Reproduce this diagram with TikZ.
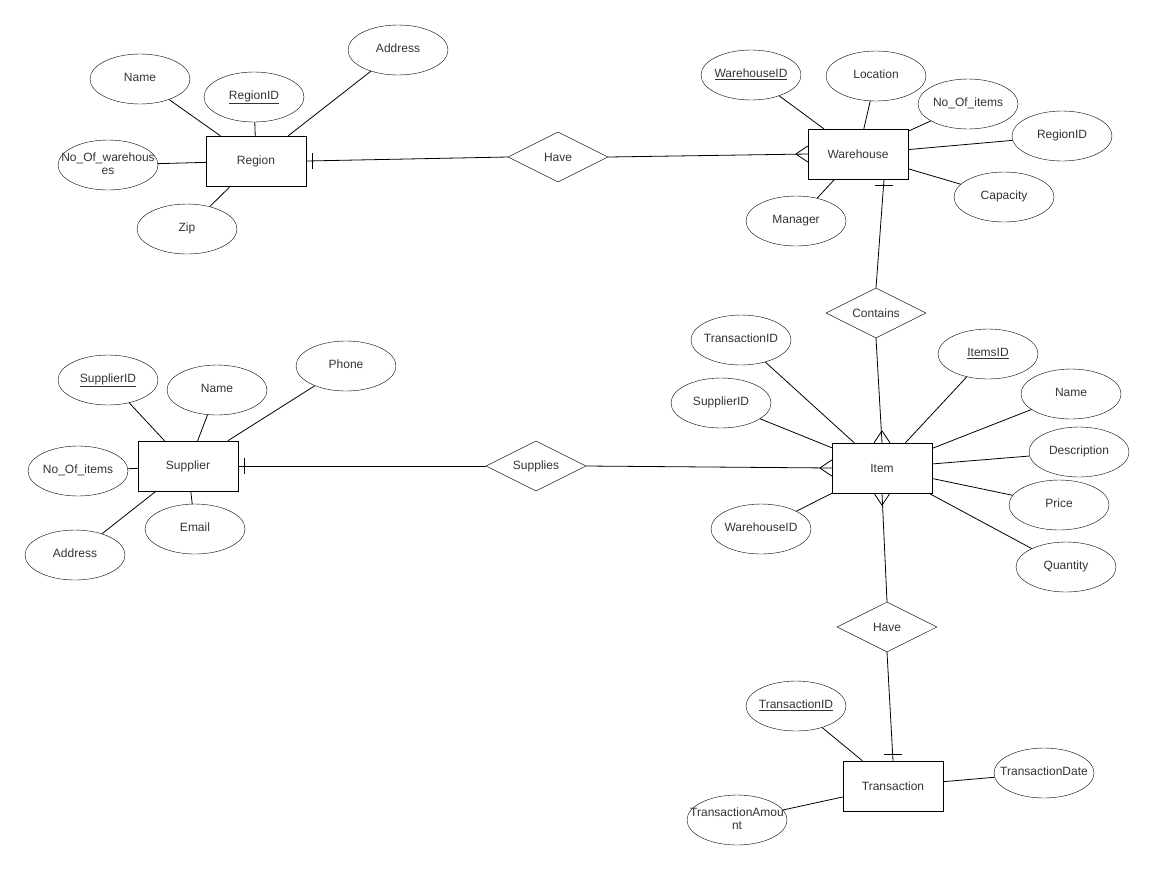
\documentclass[tikz,border=0pt]{standalone}
\usepackage{fontspec}
\setmainfont{Liberation Sans}
\usetikzlibrary{shapes.geometric,calc}
\newcommand{\tx}[1]{\makebox[40pt][c]{\begin{tabular}{@{}c@{}}#1\end{tabular}}}
\begin{document}
\begin{tikzpicture}[x=1pt,y=-1pt,
  every node/.style={font=\fontsize{12}{13}\selectfont, text=black!80, align=center},
  ent/.style={draw, minimum width=100pt, minimum height=50pt, inner sep=0pt},
  rel/.style={draw, diamond, aspect=2, minimum width=100pt, minimum height=50pt, inner sep=0pt},
  att/.style={draw, ellipse, minimum width=100pt, minimum height=50pt, inner sep=0pt},
  ln/.style={draw, line width=0.8pt}]
\useasboundingbox (0,0) rectangle (1155,871);
\newcommand{\crowL}[1]{\draw[ln] ($(#1)+(-12,0)$) -- ($(#1)+(0,-8)$) ($(#1)+(-12,0)$) -- ($(#1)+(0,8)$);}
\newcommand{\crowU}[1]{\draw[ln] ($(#1)+(0,-12)$) -- ($(#1)+(-8,0)$) ($(#1)+(0,-12)$) -- ($(#1)+(8,0)$);}
\newcommand{\crowD}[1]{\draw[ln] ($(#1)+(0,12)$) -- ($(#1)+(-8,0)$) ($(#1)+(0,12)$) -- ($(#1)+(8,0)$);}
% entities
\node[ent] (region) at (256,161) {Region};
\node[ent] (wh) at (858,154) {Warehouse};
\node[ent] (sup) at (188,466) {Supplier};
\node[ent] (item) at (882,468) {Item};
\node[ent] (tr) at (893,786) {Transaction};
% relations
\node[rel] (have1) at (558,157) {Have};
\node[rel] (cont) at (876,313) {Contains};
\node[rel] (supp) at (536,466) {Supplies};
\node[rel] (have2) at (887,627) {Have};
% attributes
\node[att] (rname) at (140,79) {\tx{Name}};
\node[att] (rid) at (254,97) {\tx{\underline{RegionID}}};
\node[att] (raddr) at (398,50) {\tx{Address}};
\node[att] (rnow) at (108,165) {\tx{No\_Of\_warehous\\es}};
\node[att] (rzip) at (187,229) {\tx{Zip}};
\node[att] (wid) at (751,75) {\tx{\underline{WarehouseID}}};
\node[att] (wloc) at (876,76) {\tx{Location}};
\node[att] (wnoi) at (968,104) {\tx{No\_Of\_items}};
\node[att] (wrid) at (1062,136) {\tx{RegionID}};
\node[att] (wcap) at (1004,197) {\tx{Capacity}};
\node[att] (wman) at (796,221) {\tx{Manager}};
\node[att] (itid) at (741,340) {\tx{TransactionID}};
\node[att] (iid) at (988,354) {\tx{\underline{ItemsID}}};
\node[att] (isid) at (721,403) {\tx{SupplierID}};
\node[att] (iname) at (1071,394) {\tx{Name}};
\node[att] (idesc) at (1079,452) {\tx{Description}};
\node[att] (iprice) at (1059,505) {\tx{Price}};
\node[att] (iqty) at (1066,567) {\tx{Quantity}};
\node[att] (iwid) at (761,529) {\tx{WarehouseID}};
\node[att] (sid) at (108,380) {\tx{\underline{SupplierID}}};
\node[att] (sname) at (217,390) {\tx{Name}};
\node[att] (sph) at (346,366) {\tx{Phone}};
\node[att] (snoi) at (78,471) {\tx{No\_Of\_items}};
\node[att] (sem) at (195,529) {\tx{Email}};
\node[att] (saddr) at (75,555) {\tx{Address}};
\node[att] (tid) at (796,706) {\tx{\underline{TransactionID}}};
\node[att] (tdate) at (1044,773) {\tx{TransactionDate}};
\node[att] (tamt) at (737,820) {\tx{TransactionAmou\\nt}};
% attribute lines
\foreach \a in {rname,rid,raddr,rnow,rzip} \draw[ln] (\a) -- (region);
\foreach \a in {wid,wloc,wnoi,wrid,wcap,wman} \draw[ln] (\a) -- (wh);
\foreach \a in {itid,iid,isid,iname,idesc,iprice,iqty,iwid} \draw[ln] (\a) -- (item);
\foreach \a in {sid,sname,sph,snoi,sem,saddr} \draw[ln] (\a) -- (sup);
\foreach \a in {tid,tdate,tamt} \draw[ln] (\a) -- (tr);
% relationship lines
\draw[ln] (have1.west) -- (region.east);
\draw[ln] ($(region.east)+(6,-8)$) -- ($(region.east)+(6,8)$);
\draw[ln] (have1.east) -- (wh.west);
\crowL{wh.west}
\coordinate (whb) at ($(wh.south)+(26,0)$);
\draw[ln] (cont.north) -- (whb);
\draw[ln] ($(whb)+(-9,6)$) -- ($(whb)+(9,6)$);
\draw[ln] (cont.south) -- (item.north);
\crowU{item.north}
\draw[ln] (supp.west) -- (sup.east);
\draw[ln] ($(sup.east)+(6,-8)$) -- ($(sup.east)+(6,8)$);
\draw[ln] (supp.east) -- (item.west);
\crowL{item.west}
\draw[ln] (have2.north) -- (item.south);
\crowD{item.south}
\draw[ln] (have2.south) -- (tr.north);
\draw[ln] ($(tr.north)+(-9,-6)$) -- ($(tr.north)+(9,-6)$);
\end{tikzpicture}
\end{document}
